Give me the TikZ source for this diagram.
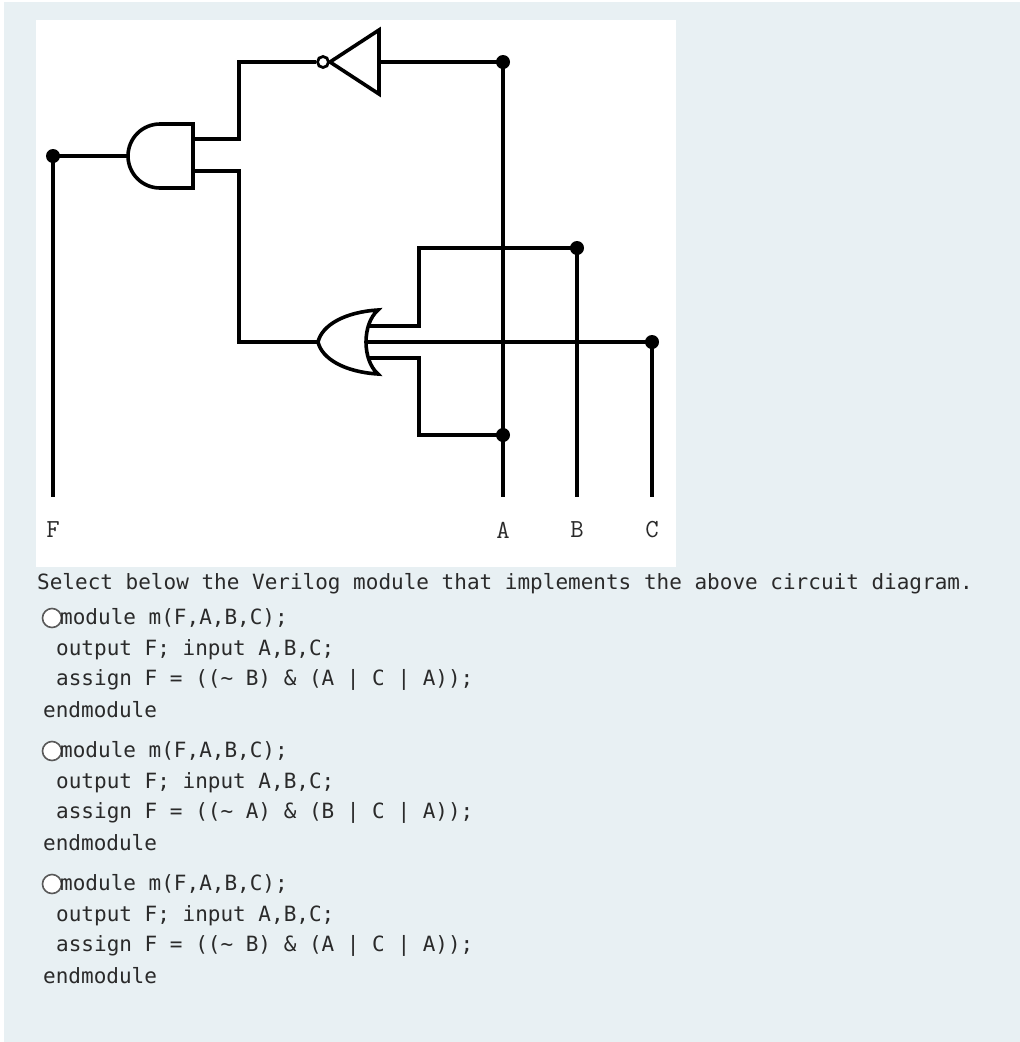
\documentclass[tikz,border=0pt]{standalone}
\usepackage{fontspec}
\newfontfamily\codefont{DejaVu Sans Mono}
\definecolor{bgc}{HTML}{E8F0F3}
\definecolor{txt}{HTML}{2A2A2A}
\begin{document}
\begin{tikzpicture}[x=1pt,y=-1pt,
  wire/.style={line width=3.6pt,line join=miter},
  dotc/.style={circle,fill=black,inner sep=0pt,minimum size=14pt},
  lbl/.style={font=\ttfamily\fontsize{26}{26}\selectfont,text=txt},
  code/.style={anchor=west,inner sep=0pt,font=\codefont\fontsize{21}{21}\selectfont,text=txt},
  radio/.style={circle,draw=gray!70!black,line width=1.6pt,fill=white,inner sep=0pt,minimum size=19pt}]
\useasboundingbox (0,0) rectangle (1020,1042);
\fill[white] (0,0) rectangle (1020,1042);
\fill[bgc] (4,2) rectangle (1020,1042);
\fill[white] (36,20) rectangle (676,567);
\node[dotc] (dA1) at (503,62) {};
\node[dotc] (dA2) at (503,435) {};
\node[dotc] (dB) at (577,248) {};
\node[dotc] (dC) at (652,342) {};
\node[dotc] (dF) at (53,156) {};
\coordinate (Aend) at (503,497);
\coordinate (Bend) at (577,497);
\coordinate (Cend) at (652,497);
\coordinate (Fend) at (53,497);
% inverter
\draw[wire] (379,30) -- (379,94) -- (330,62) -- cycle;
\node[circle,draw,line width=2.8pt,inner sep=0pt,minimum size=11pt] (bub) at (323,62) {};
\draw[wire] (379,62) -- (dA1.center);
\draw[wire] (dA1.center) -- (Aend);
% AND
\draw[wire] (193,124) -- (160,124) arc[start angle=270,end angle=90,radius=32] -- (193,188) -- cycle;
\draw[wire] (128,156) -- (dF.center) -- (Fend);
\draw[wire] (bub.west) -- (239,62) -- (239,139) -- (193,139);
\draw[wire] (193,171) -- (239,171) -- (239,342) -- (318,342);
% OR
\draw[wire] (378,310) .. controls (345,312) and (322,325) .. (318,342) .. controls (322,359) and (345,372) .. (378,374) .. controls (362,360) and (362,324) .. (378,310) -- cycle;
\draw[wire] (367,326) -- (419,326) -- (419,248) -- (dB.center) -- (Bend);
\draw[wire] (366,342) -- (dC.center) -- (Cend);
\draw[wire] (367,358) -- (419,358) -- (419,435) -- (dA2.center);
% labels
\node[lbl] (lF) at (53,530) {F};
\node[lbl] (lA) at (503,530) {A};
\node[lbl] (lB) at (577,530) {B};
\node[lbl] (lC) at (652,530) {C};
% text
\node[code] (q) at (37,584) {Select below the Verilog module that implements the above circuit diagram.};
\foreach \y/\v/\w [count=\i] in {618/B/A,751/A/B,884/B/A}{
  \node[radio] (r\i) at (52,\y) {};
  \node[code] (m\i) at (60,\y) {module m(F,A,B,C);};
  \node[code] (o\i) at (56,\y+32) {output F; input A,B,C;};
  \node[code] (a\i) at (56,\y+62) {assign F = ((\string~ \v) \& (\w\ | C | A));};
  \node[code] (e\i) at (43,\y+92) {endmodule};
}
\end{tikzpicture}
\end{document}
